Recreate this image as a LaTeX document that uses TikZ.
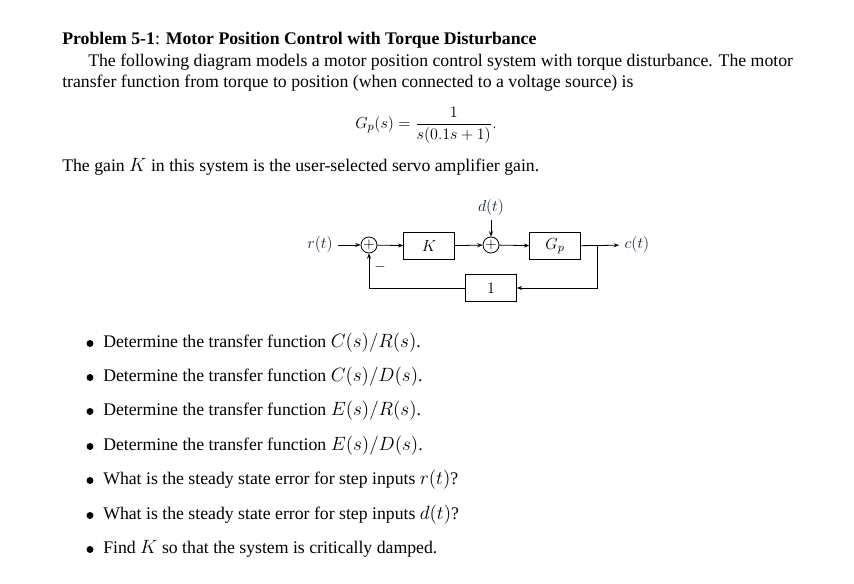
\documentclass[tikz,border=0pt]{standalone}
\usepackage{fontspec}
\setmainfont{Liberation Serif}
\usetikzlibrary{arrows.meta}
\definecolor{lbl}{RGB}{25,30,55}
\begin{document}
\begin{tikzpicture}[x=0.75pt,y=-0.75pt,
  txt/.style={anchor=base west,inner sep=0,font=\fontsize{13.3}{15}\selectfont},
  blk/.style={draw,line width=0.6pt,minimum width=38pt,minimum height=20pt,inner sep=0,font=\fontsize{12.5}{14}\selectfont},
  sumn/.style={draw,circle,line width=0.6pt,minimum size=12pt,inner sep=0,font=\fontsize{11}{11}\selectfont},
  lab/.style={text=lbl,inner sep=0,font=\fontsize{12.5}{14}\selectfont},
  conn/.style={line width=0.6pt,-{Stealth[length=4pt,width=3pt]}},
  plain/.style={line width=0.6pt}]
\useasboundingbox (0,0) rectangle (854,584);
\node[txt] (title) at (62,45) {\textbf{Problem 5-1}: \textbf{Motor Position Control with Torque Disturbance}};
\node[txt] (p1) at (88,67) {The following diagram models a motor position control system with torque disturbance. The motor};
\node[txt] (p2) at (62,88) {transfer function from torque to position (when connected to a voltage source) is};
\node[inner sep=0,font=\fontsize{13}{15}\selectfont] (eq) at (426,125) {$\displaystyle G_p(s)=\frac{1}{s(0.1s+1)}.$};
\node[txt] (p3) at (62,172) {The gain $K$ in this system is the user-selected servo amplifier gain.};

\node[sumn] (s1) at (369,245) {$+$};
\node[blk] (k) at (429,246) {$K$};
\node[sumn] (s2) at (491,245) {$+$};
\node[blk] (gp) at (555,246) {$G_p$};
\node[blk] (one) at (491,288) {$1$};
\node[lab] (r) at (320,245) {$r(t)$};
\node[lab] (d) at (491,208) {$d(t)$};
\node[lab] (c) at (637,245) {$c(t)$};
\node[inner sep=0,font=\fontsize{11}{11}\selectfont] (m) at (380,267) {$-$};
\coordinate (br) at (597,245);
\draw[conn,shorten <=4pt] (r) -- (s1);
\draw[conn] (s1) -- (k);
\draw[conn] (k) -- (s2);
\draw[conn,shorten <=3pt] (d) -- (s2);
\draw[conn] (s2) -- (gp);
\draw[conn,shorten >=4pt] (gp) -- (c);
\draw[conn] (br) |- (one);
\draw[conn] (one) -| (s1);

\foreach \t/\y in {{Determine the transfer function $C(s)/R(s)$.}/348,
  {Determine the transfer function $C(s)/D(s)$.}/382,
  {Determine the transfer function $E(s)/R(s)$.}/416,
  {Determine the transfer function $E(s)/D(s)$.}/451,
  {What is the steady state error for step inputs $r(t)$?}/485,
  {What is the steady state error for step inputs $d(t)$?}/520,
  {Find $K$ so that the system is critically damped.}/554}{
  \fill (90,\y-4.5) circle (2.6pt);
  \node[txt] at (103,\y) {\t};
}
\end{tikzpicture}
\end{document}
